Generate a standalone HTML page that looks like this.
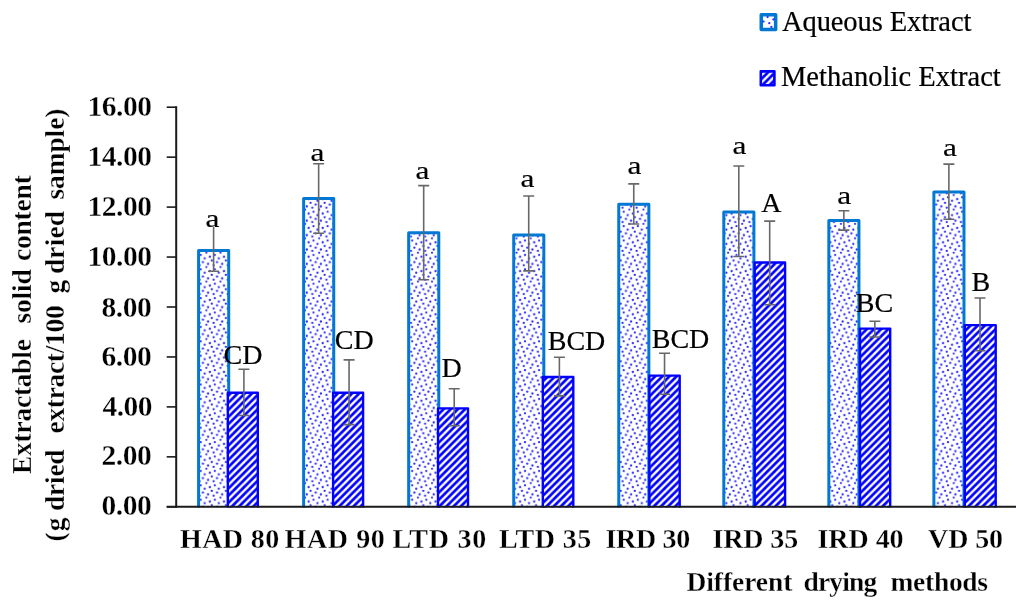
<!DOCTYPE html><html><head><meta charset="utf-8"><style>html,body{margin:0;padding:0;background:#fff;overflow:hidden}svg{display:block}text{font-family:"Liberation Serif","Times New Roman",serif;fill:#000;stroke:#000;stroke-width:0.22px}.b{font-weight:bold;stroke:#fff;stroke-width:0.3px}.n{stroke-width:0.3px}</style></head><body>
<svg width="1024" height="606" viewBox="0 0 1024 606">
<defs>
<pattern id="dots" patternUnits="userSpaceOnUse" x="196" y="250" width="14.1" height="14.4">
<rect width="14.1" height="14.4" fill="#fff"/>
<circle cx="3.50" cy="0.90" r="1.12" fill="#2a2aff"/>
<circle cx="3.50" cy="15.30" r="1.12" fill="#2a2aff"/>
<circle cx="10.40" cy="2.70" r="1.12" fill="#2a2aff"/>
<circle cx="4.70" cy="4.95" r="1.12" fill="#2a2aff"/>
<circle cx="-0.20" cy="6.70" r="1.12" fill="#2a2aff"/>
<circle cx="13.90" cy="6.70" r="1.12" fill="#2a2aff"/>
<circle cx="8.70" cy="8.40" r="1.12" fill="#2a2aff"/>
<circle cx="1.70" cy="10.40" r="1.12" fill="#2a2aff"/>
<circle cx="6.90" cy="12.10" r="1.12" fill="#2a2aff"/>
<circle cx="12.10" cy="-0.50" r="1.12" fill="#2a2aff"/>
<circle cx="12.10" cy="13.90" r="1.12" fill="#2a2aff"/>
</pattern>
<pattern id="hatch" patternUnits="userSpaceOnUse" x="0" y="0" width="7.15" height="7.15">
<rect width="7.15" height="7.15" fill="#0000ff"/>
<polygon points="3.79,0 7.15,0 0,7.15 0,3.79" fill="#fff"/>
<polygon points="7.15,3.79 7.15,7.15 3.79,7.15" fill="#fff"/>
</pattern>
<pattern id="hatchL" patternUnits="userSpaceOnUse" x="1.9" y="0" width="7.15" height="7.15">
<rect width="7.15" height="7.15" fill="#0000ff"/>
<polygon points="3.79,0 7.15,0 0,7.15 0,3.79" fill="#fff"/>
<polygon points="7.15,3.79 7.15,7.15 3.79,7.15" fill="#fff"/>
</pattern>
<clipPath id="pc"><rect x="150" y="0" width="900" height="507.5"/></clipPath>
</defs>
<rect width="1024" height="606" fill="#fff"/>
<g clip-path="url(#pc)">
<rect x="198.60" y="250.40" width="30.1" height="259.40" fill="url(#dots)" stroke="#0078d4" stroke-width="3" stroke-linejoin="round"/>
<rect x="227.80" y="392.70" width="30.00" height="117.10" fill="url(#hatch)" stroke="#0000ff" stroke-width="2.4" stroke-linejoin="round"/>
<rect x="303.64" y="198.60" width="30.1" height="311.20" fill="url(#dots)" stroke="#0078d4" stroke-width="3" stroke-linejoin="round"/>
<rect x="333.10" y="392.70" width="30.00" height="117.10" fill="url(#hatch)" stroke="#0000ff" stroke-width="2.4" stroke-linejoin="round"/>
<rect x="408.68" y="232.80" width="30.1" height="277.00" fill="url(#dots)" stroke="#0078d4" stroke-width="3" stroke-linejoin="round"/>
<rect x="438.00" y="408.40" width="30.00" height="101.40" fill="url(#hatch)" stroke="#0000ff" stroke-width="2.4" stroke-linejoin="round"/>
<rect x="513.72" y="234.90" width="30.1" height="274.90" fill="url(#dots)" stroke="#0078d4" stroke-width="3" stroke-linejoin="round"/>
<rect x="542.80" y="377.00" width="30.50" height="132.80" fill="url(#hatch)" stroke="#0000ff" stroke-width="2.4" stroke-linejoin="round"/>
<rect x="618.76" y="204.20" width="30.1" height="305.60" fill="url(#dots)" stroke="#0078d4" stroke-width="3" stroke-linejoin="round"/>
<rect x="649.40" y="375.60" width="30.30" height="134.20" fill="url(#hatch)" stroke="#0000ff" stroke-width="2.4" stroke-linejoin="round"/>
<rect x="723.80" y="211.90" width="30.1" height="297.90" fill="url(#dots)" stroke="#0078d4" stroke-width="3" stroke-linejoin="round"/>
<rect x="754.70" y="262.50" width="30.40" height="247.30" fill="url(#hatch)" stroke="#0000ff" stroke-width="2.4" stroke-linejoin="round"/>
<rect x="828.84" y="220.60" width="30.1" height="289.20" fill="url(#dots)" stroke="#0078d4" stroke-width="3" stroke-linejoin="round"/>
<rect x="860.00" y="328.60" width="30.20" height="181.20" fill="url(#hatch)" stroke="#0000ff" stroke-width="2.4" stroke-linejoin="round"/>
<rect x="933.88" y="192.00" width="30.1" height="317.80" fill="url(#dots)" stroke="#0078d4" stroke-width="3" stroke-linejoin="round"/>
<rect x="964.80" y="325.10" width="30.90" height="184.70" fill="url(#hatch)" stroke="#0000ff" stroke-width="2.4" stroke-linejoin="round"/>
</g>
<path d="M213.60,227.00V271.20M208.10,271.20H219.10" stroke="#686868" stroke-width="1.6" fill="none"/>
<path d="M243.90,369.30V415.50M238.40,369.30H249.40M238.40,415.50H249.40" stroke="#686868" stroke-width="1.6" fill="none"/>
<path d="M318.64,163.80V233.30M313.14,163.80H324.14M313.14,233.30H324.14" stroke="#686868" stroke-width="1.6" fill="none"/>
<path d="M349.06,359.90V424.60M343.56,359.90H354.56M343.56,424.60H354.56" stroke="#686868" stroke-width="1.6" fill="none"/>
<path d="M423.68,185.60V279.70M418.18,185.60H429.18M418.18,279.70H429.18" stroke="#686868" stroke-width="1.6" fill="none"/>
<path d="M454.22,388.70V425.80M448.72,388.70H459.72M448.72,425.80H459.72" stroke="#686868" stroke-width="1.6" fill="none"/>
<path d="M528.72,196.00V270.90M523.22,196.00H534.22M523.22,270.90H534.22" stroke="#686868" stroke-width="1.6" fill="none"/>
<path d="M559.38,357.20V395.90M553.88,357.20H564.88M553.88,395.90H564.88" stroke="#686868" stroke-width="1.6" fill="none"/>
<path d="M633.76,183.90V224.00M628.26,183.90H639.26M628.26,224.00H639.26" stroke="#686868" stroke-width="1.6" fill="none"/>
<path d="M664.54,353.30V394.30M659.04,353.30H670.04M659.04,394.30H670.04" stroke="#686868" stroke-width="1.6" fill="none"/>
<path d="M738.80,166.00V256.50M733.30,166.00H744.30M733.30,256.50H744.30" stroke="#686868" stroke-width="1.6" fill="none"/>
<path d="M769.70,221.10V304.70M764.20,221.10H775.20M764.20,304.70H775.20" stroke="#686868" stroke-width="1.6" fill="none"/>
<path d="M843.84,210.70V230.10M838.34,210.70H849.34M838.34,230.10H849.34" stroke="#686868" stroke-width="1.6" fill="none"/>
<path d="M874.86,321.20V337.00M869.36,321.20H880.36M869.36,337.00H880.36" stroke="#686868" stroke-width="1.6" fill="none"/>
<path d="M948.88,164.10V219.30M943.38,164.10H954.38M943.38,219.30H954.38" stroke="#686868" stroke-width="1.6" fill="none"/>
<path d="M980.02,298.00V350.80M974.52,298.00H985.52M974.52,350.80H985.52" stroke="#686868" stroke-width="1.6" fill="none"/>
<text transform="translate(212.50,227.10) scale(1.120,0.885)" font-size="28" text-anchor="middle" style="stroke-width:0.18px">a</text>
<text transform="translate(317.50,160.80) scale(1.120,0.885)" font-size="28" text-anchor="middle" style="stroke-width:0.18px">a</text>
<text transform="translate(422.50,179.10) scale(1.120,0.885)" font-size="28" text-anchor="middle" style="stroke-width:0.18px">a</text>
<text transform="translate(527.50,187.20) scale(1.120,0.885)" font-size="28" text-anchor="middle" style="stroke-width:0.18px">a</text>
<text transform="translate(634.50,173.60) scale(1.120,0.885)" font-size="28" text-anchor="middle" style="stroke-width:0.18px">a</text>
<text transform="translate(739.50,154.10) scale(1.120,0.885)" font-size="28" text-anchor="middle" style="stroke-width:0.18px">a</text>
<text transform="translate(844.25,204.10) scale(1.120,0.885)" font-size="28" text-anchor="middle" style="stroke-width:0.18px">a</text>
<text transform="translate(950.00,155.80) scale(1.120,0.885)" font-size="28" text-anchor="middle" style="stroke-width:0.18px">a</text>
<text x="243.00" y="363.70" font-size="28" text-anchor="middle">CD</text>
<text x="354.25" y="348.80" font-size="28" text-anchor="middle">CD</text>
<text x="451.50" y="377.10" font-size="28" text-anchor="middle">D</text>
<text x="576.50" y="350.10" font-size="28" text-anchor="middle">BCD</text>
<text x="680.50" y="348.30" font-size="28" text-anchor="middle">BCD</text>
<text x="771.25" y="212.30" font-size="28" text-anchor="middle">A</text>
<text x="874.50" y="312.30" font-size="28" text-anchor="middle">BC</text>
<text x="980.75" y="291.00" font-size="28" text-anchor="middle">B</text>
<path d="M176.2,106.2V507.8" stroke="#1a1a1a" stroke-width="2" fill="none"/>
<path d="M166.7,506.8H1016" stroke="#1a1a1a" stroke-width="2" fill="none"/>
<path d="M166.7,506.80H176.2" stroke="#1a1a1a" stroke-width="1.6" fill="none"/>
<path d="M166.7,456.85H176.2" stroke="#1a1a1a" stroke-width="1.6" fill="none"/>
<path d="M166.7,406.90H176.2" stroke="#1a1a1a" stroke-width="1.6" fill="none"/>
<path d="M166.7,356.95H176.2" stroke="#1a1a1a" stroke-width="1.6" fill="none"/>
<path d="M166.7,307.00H176.2" stroke="#1a1a1a" stroke-width="1.6" fill="none"/>
<path d="M166.7,257.05H176.2" stroke="#1a1a1a" stroke-width="1.6" fill="none"/>
<path d="M166.7,207.10H176.2" stroke="#1a1a1a" stroke-width="1.6" fill="none"/>
<path d="M166.7,157.15H176.2" stroke="#1a1a1a" stroke-width="1.6" fill="none"/>
<path d="M166.7,107.20H176.2" stroke="#1a1a1a" stroke-width="1.6" fill="none"/>
<rect x="761.25" y="14.85" width="14.4" height="14.7" fill="#fff" stroke="#0078d4" stroke-width="3.5" stroke-linejoin="round"/>
<circle cx="767.6" cy="17.1" r="1.12" fill="#2a2aff"/>
<circle cx="763.6" cy="21.5" r="1.12" fill="#2a2aff"/>
<circle cx="773.4" cy="19.4" r="1.12" fill="#2a2aff"/>
<circle cx="769.3" cy="23.2" r="1.12" fill="#2a2aff"/>
<circle cx="771.4" cy="26.9" r="1.12" fill="#2a2aff"/>
<rect x="760.8" y="71.4" width="13.6" height="13.9" fill="url(#hatchL)" stroke="#0000ff" stroke-width="2.6" stroke-linejoin="round"/>
<text x="782.00" y="30.70" font-size="28.5" textLength="189.41" lengthAdjust="spacing" xml:space="preserve">Aqueous Extract</text>
<text x="781.00" y="85.80" font-size="28.5" textLength="219.74" lengthAdjust="spacing" xml:space="preserve">Methanolic Extract</text>
<text class="b n" x="180.00" y="548.00" font-size="28" textLength="99.23" lengthAdjust="spacing" xml:space="preserve">HAD 80</text>
<text class="b n" x="284.50" y="548.00" font-size="28" textLength="100.31" lengthAdjust="spacing" xml:space="preserve">HAD 90</text>
<text class="b n" x="392.50" y="548.00" font-size="28" textLength="93.74" lengthAdjust="spacing" xml:space="preserve">LTD 30</text>
<text class="b n" x="499.00" y="548.00" font-size="28" textLength="92.23" lengthAdjust="spacing" xml:space="preserve">LTD 35</text>
<text class="b n" x="605.50" y="548.00" font-size="28" textLength="84.77" lengthAdjust="spacing" xml:space="preserve">IRD 30</text>
<text class="b n" x="712.50" y="548.00" font-size="28" textLength="85.64" lengthAdjust="spacing" xml:space="preserve">IRD 35</text>
<text class="b n" x="817.50" y="548.00" font-size="28" textLength="86.07" lengthAdjust="spacing" xml:space="preserve">IRD 40</text>
<text class="b n" x="928.00" y="548.00" font-size="28" textLength="75.05" lengthAdjust="spacing" xml:space="preserve">VD 50</text>
<text class="b n" x="101.50" y="514.50" font-size="29.5" textLength="50.26" lengthAdjust="spacing" xml:space="preserve">0.00</text>
<text class="b n" x="101.50" y="464.50" font-size="29.5" textLength="50.26" lengthAdjust="spacing" xml:space="preserve">2.00</text>
<text class="b n" x="102.50" y="416.00" font-size="29.5" textLength="50.06" lengthAdjust="spacing" xml:space="preserve">4.00</text>
<text class="b n" x="101.50" y="366.25" font-size="29.5" textLength="50.26" lengthAdjust="spacing" xml:space="preserve">6.00</text>
<text class="b n" x="101.50" y="316.50" font-size="29.5" textLength="50.26" lengthAdjust="spacing" xml:space="preserve">8.00</text>
<text class="b n" x="87.50" y="266.25" font-size="29.5" textLength="64.60" lengthAdjust="spacing" xml:space="preserve">10.00</text>
<text class="b n" x="87.50" y="216.00" font-size="29.5" textLength="64.60" lengthAdjust="spacing" xml:space="preserve">12.00</text>
<text class="b n" x="87.50" y="166.25" font-size="29.5" textLength="64.60" lengthAdjust="spacing" xml:space="preserve">14.00</text>
<text class="b n" x="87.50" y="116.25" font-size="29.5" textLength="64.60" lengthAdjust="spacing" xml:space="preserve">16.00</text>
<text class="b" x="686.50" y="591.30" font-size="27.5" textLength="105.87" lengthAdjust="spacing" xml:space="preserve">Different</text>
<text class="b" x="803.50" y="591.30" font-size="27.5" textLength="73.75" lengthAdjust="spacing" xml:space="preserve">drying</text>
<text class="b" x="890.50" y="591.30" font-size="27.5" textLength="97.56" lengthAdjust="spacing" xml:space="preserve">methods</text>
<text class="b" transform="translate(31.00,474.00) rotate(-90)" font-size="27.4" textLength="134.94" lengthAdjust="spacing" xml:space="preserve">Extractable</text>
<text class="b" transform="translate(31.00,323.50) rotate(-90)" font-size="27.4" textLength="54.15" lengthAdjust="spacing" xml:space="preserve">solid</text>
<text class="b" transform="translate(31.00,261.00) rotate(-90)" font-size="27.4" textLength="85.77" lengthAdjust="spacing" xml:space="preserve">content</text>
<text class="b" transform="translate(63.60,541.50) rotate(-90)" font-size="27.4" textLength="23.86" lengthAdjust="spacing" xml:space="preserve">(g</text>
<text class="b" transform="translate(63.60,511.00) rotate(-90)" font-size="27.4" textLength="61.60" lengthAdjust="spacing" xml:space="preserve">dried</text>
<text class="b" transform="translate(63.60,433.50) rotate(-90)" font-size="27.4" textLength="128.12" lengthAdjust="spacing" xml:space="preserve">extract/100</text>
<text class="b" transform="translate(63.60,293.50) rotate(-90)" font-size="27.4" xml:space="preserve">g</text>
<text class="b" transform="translate(63.60,274.00) rotate(-90)" font-size="27.4" textLength="63.05" lengthAdjust="spacing" xml:space="preserve">dried</text>
<text class="b" transform="translate(63.60,199.50) rotate(-90)" font-size="27.4" textLength="90.87" lengthAdjust="spacing" xml:space="preserve">sample)</text>
</svg></body></html>
